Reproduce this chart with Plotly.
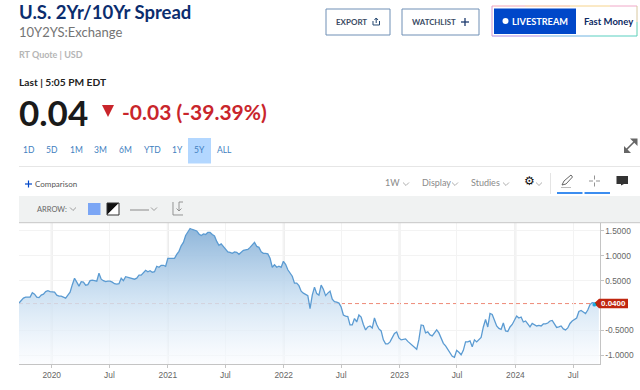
import pandas as pd
import plotly.graph_objects as go

START_DATE = "2019-09-20"
spread_values = [
 .05,.11,.15,.17,.17,.17,.26,.23,.17,.16,.21,.23,.28,.30,.28,.27,.27,.21,.19,.19,.17,.15,.21,.27,.42,.55,.47,.39,.48,.47,
 .41,.42,.50,.51,.50,.49,.65,.53,.50,.48,.49,.49,.47,.44,.43,.44,.55,.50,.58,.57,.55,.54,.53,.55,.61,.61,.67,.71,.68,.70,
 .67,.68,.79,.77,.81,.81,.79,.95,.95,.95,.95,1.03,1.09,1.20,1.27,1.41,1.48,1.55,1.53,1.52,1.50,1.44,1.41,1.44,1.43,1.47,1.47,1.43,1.40,
 1.29,1.21,1.24,1.19,1.13,1.08,1.07,1.05,1.08,1.07,1.03,1.08,1.11,1.12,1.13,1.17,1.21,1.27,1.19,1.17,1.08,1.05,1.05,1.04,.95,.77,.82,.77,.79,.77,
 .89,.83,.72,.65,.59,.45,.45,.40,.29,.25,.23,.20,-.06,.21,.37,.24,.21,.41,.33,.20,.25,.29,.13,.08,.07,.05,-.03,-.19,-.21,-.22,-.39,-.39,-.26,-.33,
 -.19,-.23,-.38,-.49,-.43,-.41,-.45,-.25,-.38,-.47,-.51,-.69,-.77,-.77,-.73,-.64,-.56,-.53,-.65,-.69,-.68,-.67,-.72,-.76,-.79,-.84,-.88,-.68,-.39,-.40,-.55,
 -.53,-.59,-.61,-.55,-.49,-.55,-.64,-.76,-.81,-.88,-.95,-1.02,-1.04,-.90,-.94,-.99,-.90,-.73,-.73,-.71,-.83,-.69,-.73,-.69,-.64,-.43,-.28,-.43,-.16,-.18,-.29,-.41,
 -.46,-.48,-.35,-.51,-.52,-.43,-.38,-.29,-.21,-.25,-.23,-.33,-.31,-.37,-.43,-.36,-.39,-.41,-.40,-.41,-.37,-.37,-.35,-.31,-.30,-.37,-.44,-.43,-.41,-.47,-.49,-.45,
 -.36,-.31,-.27,-.25,-.12,-.10,-.13,-.16,-.09,.02,.06,.06,.05,.04]
dates = pd.date_range(START_DATE, periods=len(spread_values), freq="7D")

x_range = ["2019-09-20", "2024-09-22"]
y_range = [-1.175, 1.66]
y_ticks = [-1.0, -0.5, 0.5, 1.0, 1.5]
y_labels = ["-1.0000", "-0.5000", "0.5000", "1.0000", "1.5000"]
x_ticks = ["2020-01-01","2020-07-01","2021-01-01","2021-07-01","2022-01-01","2022-07-01","2023-01-01","2023-07-01","2024-01-01","2024-07-01"]
x_labels = ["2020","Jul","2021","Jul","2022","Jul","2023","Jul","2024","Jul"]
year_ticks = x_ticks[0::2]
last_value = spread_values[-1]
range_buttons = [("1D",29),("5D",52),("1M",76),("3M",100),("6M",125),("YTD",152),("1Y",177),("5Y",199),("ALL",224)]

W, H = 640, 390
PL, PR, PT, PB = 19, 599.5, 223, 364
BODY = "Lato"
AXF = "Liberation Sans"

def px(x): return x / W
def py(y): return 1 - y / H

shapes, anns = [], []

def rect(x0, y0, x1, y1, fill=None, line=None, lw=1, layer="above"):
    shapes.append(dict(type="rect", xref="paper", yref="paper", x0=px(x0), x1=px(x1), y0=py(y0), y1=py(y1),
                       fillcolor=fill or "rgba(0,0,0,0)", line=dict(color=line or "rgba(0,0,0,0)", width=lw if line else 0), layer=layer))

def seg(x0, y0, x1, y1, color, lw=1, dash=None):
    shapes.append(dict(type="line", xref="paper", yref="paper", x0=px(x0), x1=px(x1), y0=py(y0), y1=py(y1),
                       line=dict(color=color, width=lw, dash=dash or "solid"), layer="above"))

def poly(pts, fill=None, line=None, lw=1, close=True):
    d = "M" + " L".join(f"{px(a):.5f},{py(b):.5f}" for a, b in pts) + (" Z" if close else "")
    shapes.append(dict(type="path", xref="paper", yref="paper", path=d, fillcolor=fill or "rgba(0,0,0,0)",
                       line=dict(color=line or "rgba(0,0,0,0)", width=lw if line else 0), layer="above"))

def text(x, y, s, size, color, bold=False, anchor="left", font=BODY):
    anns.append(dict(xref="paper", yref="paper", x=px(x), y=py(y), text=f"<b>{s}</b>" if bold else s, showarrow=False,
                     xanchor=anchor, yanchor="middle", font=dict(family=font, size=size, color=color), borderpad=0, borderwidth=0))

def chev(x, y, color="#9a9a9a", w=3):
    poly([(x - w, y - 1.5), (x, y + 1.5), (x + w, y - 1.5)], line=color, lw=0.8, close=False)

# Header
text(19, 12, "U.S. 2Yr/10Yr Spread", 18.5, "#0b2d6e", True)
text(19, 32, "10Y2YS:Exchange", 13, "#747474")
text(19, 55, "RT Quote | USD", 9, "#b5b5b5", True)
text(19, 82, "Last | 5:05 PM EDT", 10.2, "#222222", True)
text(19, 112, "0.04", 35, "#1a1a1a", True)
poly([(102, 105), (114, 105), (108, 117)], fill="#c9252b")
text(122, 112, "-0.03 (-39.39%)", 21, "#c9252b", True)

# Header buttons
rect(326, 9, 390, 35, fill="white", line="#6f8fb5", lw=1)
text(336, 22, "EXPORT", 8, "#3a4a63", True)
poly([(373, 21), (373, 25), (379.5, 25), (379.5, 21)], line="#24466f", lw=1, close=False)
seg(376.2, 18, 376.2, 23, "#24466f")
poly([(374.5, 20), (376.2, 18), (378, 20)], line="#24466f", lw=1, close=False)
rect(402, 9, 479, 35, fill="white", line="#6f8fb5", lw=1)
text(412, 22, "WATCHLIST", 7.8, "#3a4a63", True)
seg(461, 22, 469, 22, "#1c3a6e", 1.3)
seg(465, 18, 465, 26, "#1c3a6e", 1.3)
border = [
 ((492, 6), (525, 6), "#f2a6b4"), ((525, 6), (570, 6), "#f6b68e"), ((570, 6), (610, 6), "#f6d38c"), ((610, 6), (637, 6), "#f0a8c8"),
 ((637, 6), (637, 22), "#d8c8a0"), ((637, 22), (637, 36), "#60d0b0"),
 ((637, 36), (590, 36), "#58cfc0"), ((590, 36), (540, 36), "#70b4e0"), ((540, 36), (492, 36), "#b08ce0"),
 ((492, 36), (492, 6), "#d89ad0")]
for a, b, c in border:
    seg(a[0], a[1], b[0], b[1], c, 1)
rect(494, 8.5, 576, 34, fill="#0047c9")
shapes.append(dict(type="circle", xref="paper", yref="paper", x0=px(502.5), x1=px(508.5), y0=py(18), y1=py(24), fillcolor="white", line=dict(width=0)))
text(512, 21, "LIVESTREAM", 9.2, "#ffffff", True)
text(583.5, 21.5, "Fast Money", 9.5, "#0c2a63", True)

# Range selector
rect(188, 138, 211, 163.5, fill="#b3d7ff")
for label, cx in range_buttons:
    text(cx, 150.5, label, 8.5, "#3f7fbf", anchor="center")
seg(19, 166.5, 640, 166.5, "#e6e6e6", 1)
# expand arrows
seg(625, 151, 636, 140, "#666666", 1.6)
poly([(624, 146), (624, 153), (631, 153)], fill="#666666")
poly([(630, 138.5), (637.5, 138.5), (637.5, 146)], fill="#666666")

# Chart controls
seg(25, 184, 32, 184, "#0047c9", 1.2)
seg(28.5, 180.5, 28.5, 187.5, "#0047c9", 1.2)
text(35, 184, "Comparison", 8, "#555555")
text(385, 182, "1W", 9, "#8a8a8a")
chev(406, 184)
text(422, 182, "Display", 9, "#8a8a8a")
chev(455, 184)
text(471, 182, "Studies", 9, "#8a8a8a")
chev(506, 184)
text(529, 181, "⚙", 12, "#111111", True, anchor="center", font="DejaVu Sans")
chev(539, 184)
seg(550.5, 173, 550.5, 194, "#e4e4e4", 1)
poly([(562, 185), (564, 181), (571, 175), (572.5, 177), (566, 184), (562, 185)], line="#555555", lw=0.9)
seg(561, 187.5, 571, 187.5, "#aaaaaa", 0.8)
seg(557, 193, 582.5, 193, "#3b8df0", 2)
seg(584.5, 193, 610, 193, "#3b8df0", 2)
seg(589, 181, 593, 181, "#777777", 0.8)
seg(596, 181, 600, 181, "#777777", 0.8)
seg(594.5, 175.5, 594.5, 179.5, "#777777", 0.8)
seg(594.5, 182.5, 594.5, 186.5, "#777777", 0.8)
poly([(616.5, 176), (628, 176), (628, 184), (624, 184), (621, 185.5), (621, 184), (616.5, 184)], fill="#333333")

# Toolbar
rect(19, 196, 640, 222, fill="#f0f2f2")
text(37, 209, "ARROW:", 7.5, "#666666")
chev(73, 209, "#888888")
rect(88, 203, 100.5, 215, fill="#7ba6f5")
poly([(107, 203), (119, 203), (107, 215)], fill="#111111")
poly([(119, 203), (119, 215), (107, 215)], fill="#ffffff")
rect(107, 203, 119, 215, line="#333333", lw=1)
seg(130, 210, 149, 210, "#8a8a8a", 1)
chev(154, 209, "#888888")
poly([(173, 202), (173, 215), (183, 215)], line="#8a8a8a", lw=0.9, close=False)
seg(179, 202, 183, 202, "#8a8a8a", 0.9)
seg(179, 202, 179, 211, "#8a8a8a", 0.9)
poly([(176.5, 208.5), (179, 211), (181.5, 208.5)], line="#8a8a8a", lw=0.9, close=False)

# Chart frame and grid (data space)
for d in year_ticks:
    shapes.append(dict(type="line", xref="x", yref="paper", x0=d, x1=d, y0=py(PB), y1=py(PT), layer="below",
                       line=dict(color="#e9e9e9", width=2)))
shapes.append(dict(type="line", xref="x", yref="y", x0=x_range[0], x1=x_range[1], y0=last_value, y1=last_value,
                   layer="below", line=dict(color="#ee8a78", width=1, dash="4px,3px")))
seg(19, 222.7, 640, 222.7, "#c4c4c4", 1)

# Value tag and dot, tied to the last value via the y axis
def tag_y(dy):
    return py((PT + (y_range[1] - last_value) / (y_range[1] - y_range[0]) * (PB - PT)) + dy)
tag = [(594, 0), (599, -4.7), (628, -4.7), (628, 4.7), (599, 4.7)]
shapes.append(dict(type="path", xref="paper", yref="paper", layer="above", fillcolor="#c0260f", line=dict(width=0),
                   path="M" + " L".join(f"{px(a):.5f},{tag_y(b):.5f}" for a, b in tag) + " Z"))
anns.append(dict(xref="paper", yref="y", x=px(628), y=last_value, text="<b>0.0400</b>", showarrow=False, xanchor="right",
                 yanchor="middle", font=dict(family=AXF, size=8, color="white")))
anns.append(dict(xref="x", yref="y", x=str(dates[-1].date()), y=last_value, text="●", showarrow=False, xanchor="right",
                 yanchor="middle", font=dict(family="DejaVu Sans", size=5, color="#1fa9e2")))

baseline = [y_range[0]] * len(spread_values)
fig = go.Figure()
fig.add_trace(go.Scatter(x=dates, y=baseline, mode="lines", line=dict(width=0), hoverinfo="skip", showlegend=False))
fig.add_trace(go.Scatter(x=dates, y=spread_values, mode="lines", fill="tonexty",
                         fillgradient=dict(type="vertical", colorscale=[[0, "rgba(250,252,255,0.6)"], [0.5, "rgba(200,222,241,0.85)"], [1, "rgba(140,180,217,0.97)"]]),
                         line=dict(color="#5b9bd2", width=1.3), showlegend=False))

fig.update_layout(
    width=W, height=H, margin=dict(l=0, r=0, t=0, b=0), paper_bgcolor="white", plot_bgcolor="white",
    showlegend=False, shapes=shapes, annotations=anns,
    xaxis=dict(domain=[px(PL), px(PR)], range=x_range, type="date", tickmode="array", tickvals=x_ticks, ticktext=x_labels,
               showgrid=True, gridcolor="#f3f3f3", gridwidth=1, ticks="outside", ticklen=3, tickcolor="#c4c4c4",
               showline=True, linecolor="#c4c4c4", linewidth=1, tickfont=dict(family=AXF, size=8.4, color="#666666"), zeroline=False),
    yaxis=dict(domain=[py(PB), py(PT)], range=y_range, side="right", tickmode="array", tickvals=y_ticks, ticktext=y_labels,
               showgrid=True, gridcolor="#f3f3f3", gridwidth=1, ticks="outside", ticklen=3, tickcolor="#c4c4c4",
               showline=True, linecolor="#c4c4c4", linewidth=1, tickfont=dict(family=AXF, size=8.4, color="#666666"), zeroline=False),
)
fig.write_html("out.html", config={"displayModeBar": False}, post_script="document.body.style.margin='0';")
